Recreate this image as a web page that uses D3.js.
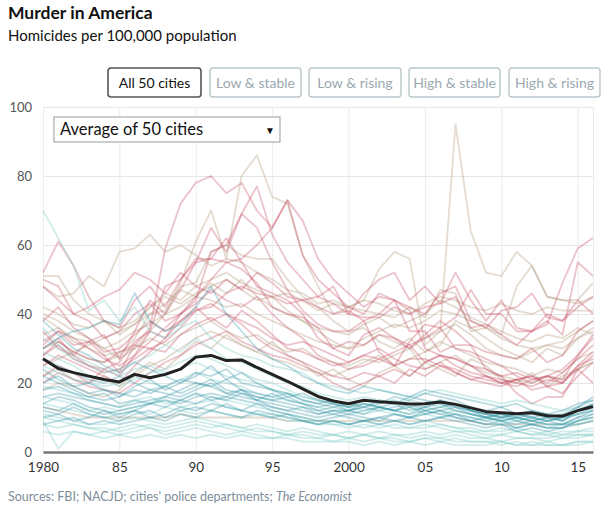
<!DOCTYPE html>
<html>
<head>
<meta charset="utf-8">
<script src="https://cdn.jsdelivr.net/npm/d3@7"></script>
<style>
  body { margin: 0; background: #fff; font-family: Lato, "Open Sans", sans-serif; }
  svg text { font-family: Lato, "Open Sans", sans-serif; }
</style>
</head>
<body>
<div id="chart"></div>
<script>
// years on the x axis
const years = d3.range(1980, 2017);

// average of the 50 cities
const average = [27,24.2,23,22,21,20.3,22.5,21.5,22.5,24,27.5,28,26.5,26.7,24.5,22.5,20.5,18.3,16.1,14.8,14,15,14.6,14.3,13.9,14,14.5,13.8,12.8,11.7,11.4,11.1,11.4,10.5,10.4,12,13.2];

// high & rising cities
const highRising = [
  [31,35,31,32,28,23,31,36,59,72,78,80,75,78,70,65,73,57,50,46,42,40,46,44,35,35,29,31,31,24,22,17,14,16,16,24,20],
  [50,48,40,38,33,35,40,43,38,40,44,58,60,69,65,55,47,41,37,35,35,38,29,25,32,37,36,39,47,40,40,35,35,37,49,59,62],
  [28,32,29,27,26,29,31,30,32,36,41,42,46,48,46,45,43,44,45,43,40,39,39,42,40,42,43,45,36,37,34,31,35,38,34,55,51],
  [52,61,54,45,38,36,44,48,42,50,56,56,62,55,48,46,44,40,33,30,28,34,36,33,31,33,36,30,29,27,25,22,20,22,21,28,34],
  [35,30,28,32,34,27,35,44,40,47,55,65,58,69,77,63,55,50,45,48,40,46,50,52,44,48,43,52,44,38,44,36,35,40,38,42,45],
  [30,33,28,25,24,26,32,35,33,40,45,50,55,56,60,65,73,67,56,50,46,42,45,44,41,30,28,27,25,24,22,23,21,22,24,28,33],
  [22,25,23,20,24,22,28,35,48,50,55,56,55,53,49,42,40,39,36,30,32,31,34,33,30,34,38,35,31,29,28,27,30,26,28,35,38],
  [32,35,33,30,27,25,28,32,36,40,43,47,44,42,45,40,36,33,28,26,24,25,27,29,31,26,28,25,23,22,21,20,19,21,20,24,28],
  [25,28,26,24,22,20,25,29,33,38,42,38,40,37,33,30,28,26,24,22,21,23,22,20,24,22,25,23,21,20,19,21,18,19,17,22,26],
  [38,42,36,33,29,30,34,38,35,38,41,43,40,38,36,33,31,32,30,28,26,28,27,25,27,27,25,24,22,21,20,19,21,22,20,25,29],
  [20,23,21,19,18,17,20,23,26,28,31,33,35,32,30,28,27,25,23,20,18,20,22,24,22,26,28,27,25,22,20,21,22,19,20,25,27],
  [28,31,27,25,23,24,27,30,29,34,37,39,36,41,38,34,30,29,27,25,26,28,30,27,25,24,26,23,21,22,20,21,22,20,23,27,31],
  [48,44,40,42,45,47,52,50,46,52,48,46,50,47,52,49,45,44,42,40,41,38,40,44,42,40,46,48,38,36,41,42,46,39,38,44,40]
];

// high & stable cities
const highStable = [
  [39,36,33,32,30,27,30,35,40,49,61,70,56,80,86,74,72,57,48,40,42,44,53,58,56,31,35,95,64,52,51,58,54,45,44,44,49],
  [48,45,46,51,48,58,59,63,58,60,57,54,56,55,52,50,47,46,43,44,42,41,40,39,42,39,47,46,35,36,34,48,54,45,44,43,45],
  [30,32,29,27,26,28,33,40,41,48,49,58,60,57,56,56,50,45,42,38,35,36,32,30,33,29,31,38,36,33,30,28,26,30,28,33,36],
  [51,51,44,40,38,36,38,42,45,43,46,48,50,47,44,45,41,38,35,32,30,31,34,32,30,33,35,37,34,30,28,27,29,31,30,33,35],
  [40,38,35,33,30,32,35,37,40,42,45,44,42,43,40,38,36,34,32,31,30,33,35,37,36,38,41,40,38,36,33,31,30,31,32,35,38],
  [25,27,29,31,33,35,37,42,46,44,48,50,52,49,47,45,46,44,41,43,42,44,43,41,40,43,45,44,42,41,43,41,40,42,41,41,41],
  [18,20,19,17,16,18,22,25,27,30,33,35,33,31,29,27,26,24,23,22,24,26,28,25,27,29,32,30,28,26,25,24,22,24,23,27,29],
  [34,36,32,30,28,29,30,33,31,34,36,38,35,33,34,31,29,30,27,26,25,27,26,28,30,24,26,28,25,23,22,21,20,22,21,24,26],
  [13,12,11,10,10,10,10,10,10,11,10,10,10,10,10,10,9,9,9,9,9,9,9,9,9,9,9,9,9,8,8,8,8,8,8,8,9],
  [22,24,21,20,22,19,23,26,24,28,32,30,34,31,29,32,28,26,22,24,21,19,23,25,22,26,24,22,27,25,21,20,23,19,22,24,26],
  [42,40,37,36,38,34,37,40,43,47,45,49,46,50,45,42,40,38,36,35,34,37,39,36,38,40,44,42,39,37,35,33,32,34,33,36,34]
];

// low & rising cities
const lowRising = [
  [22,20,18,16,17,14,15,14,15,14,16,17,16,18,15,14,13,12,11,12,11,12,13,12,11,13,12,13,11,10,9,10,9,10,9,12,13],
  [16,17,16,15,14,13,14,15,16,15,17,15,16,15,14,13,12,11,10,11,10,9,10,11,10,11,12,10,9,8,8,7,8,7,7,9,11],
  [38,34,30,28,25,23,26,24,22,20,22,25,21,23,20,18,17,15,14,13,14,13,15,14,16,15,14,13,12,11,10,11,10,9,10,12,14],
  [13,12,14,12,11,12,13,14,13,15,14,16,15,17,15,13,12,13,11,12,12,13,14,15,13,14,15,13,12,11,11,10,9,10,9,11,12],
  [20,22,19,17,18,16,19,21,18,20,23,22,24,20,19,18,16,17,15,14,13,15,14,16,15,17,16,15,13,12,13,11,12,11,10,13,15],
  [10,11,9,10,12,11,12,10,11,13,12,14,13,12,14,12,11,10,9,10,11,10,9,11,10,12,11,10,9,10,9,8,9,8,8,10,11],
  [27,25,23,21,20,22,20,18,19,21,20,19,21,18,17,16,17,15,14,15,13,14,13,14,12,13,14,12,11,10,11,9,10,9,10,11,13],
  [14,16,15,13,12,10,12,14,16,18,20,19,17,18,16,15,14,13,12,11,12,14,13,12,14,13,15,14,12,11,10,11,10,11,9,12,14],
  [8,9,10,8,9,8,9,10,9,11,10,12,11,10,12,11,10,9,8,9,8,9,10,9,10,9,10,11,9,8,9,7,8,7,7,9,10],
  [18,19,17,16,15,16,18,17,19,17,19,21,18,17,16,15,16,14,13,14,12,13,12,13,14,12,13,14,12,10,11,10,11,10,11,13,16],
  [30,33,35,36,38,37,46,38,35,37,42,48,40,35,30,27,25,22,20,18,17,19,18,17,16,18,17,16,15,14,13,14,12,11,12,14,15],
  [12,11,13,11,10,9,11,12,10,12,13,12,14,12,11,10,11,9,8,9,8,9,8,9,8,9,10,9,8,7,8,6,7,6,7,8,9],
  [24,21,19,20,18,17,16,18,17,16,18,20,17,16,15,17,15,14,12,13,12,11,13,12,13,11,12,11,10,9,10,9,8,9,8,10,12]
];

// low & stable cities
const lowStable = [
  [70,62,54,41,44,38,42,35,33,36,38,33,30,28,27,25,24,23,20,19,18,17,18,17,16,17,18,17,16,15,14,15,14,13,12,13,12],
  [8,7,8,7,6,7,8,7,6,7,8,7,8,7,6,6,5,6,5,5,4,5,4,5,4,5,4,5,4,4,3,4,4,3,4,4,5],
  [9,1,6,5,6,5,6,7,5,6,7,6,5,6,5,4,5,4,4,3,4,3,4,3,3,4,3,4,3,3,2,3,2,3,2,3,3],
  [14,13,12,11,10,11,12,11,13,12,11,12,11,10,11,10,9,9,8,8,7,8,7,8,7,7,8,7,6,6,7,6,5,6,5,6,6],
  [36,31,28,26,24,22,24,25,23,24,26,24,22,21,20,18,17,16,15,14,13,14,13,12,13,12,11,12,11,10,9,10,9,8,8,9,10],
  [6,5,6,5,4,5,4,5,4,5,4,5,4,5,4,4,4,3,3,3,3,2,3,2,3,2,3,2,2,2,3,2,2,2,2,2,3],
  [19,18,17,15,14,13,15,16,14,15,17,16,15,14,13,12,11,10,9,9,8,9,8,9,8,9,8,7,7,6,6,7,6,5,6,6,7],
  [11,10,9,8,8,9,10,9,8,9,10,9,8,7,8,7,6,7,6,5,6,5,6,5,5,6,5,6,5,4,5,4,4,4,5,5,5],
  [25,23,21,20,19,20,22,20,19,21,23,21,20,19,17,16,15,14,13,12,12,11,12,11,10,11,10,11,10,9,8,9,8,7,8,8,9],
  [16,15,14,12,13,12,13,14,15,13,14,15,13,12,11,11,10,9,9,8,8,7,8,7,7,8,7,6,6,5,5,6,5,5,4,5,5],
  [29,27,25,22,21,19,21,23,24,26,28,27,25,23,21,20,18,16,15,14,13,12,13,12,11,12,13,12,11,10,9,10,9,8,8,9,10],
  [10,9,8,7,7,6,7,8,7,8,9,8,7,6,7,6,5,5,4,5,4,5,4,4,3,4,4,3,3,3,3,2,3,2,2,3,3],
  [33,30,27,25,23,24,26,28,31,29,33,30,27,26,24,22,20,19,17,16,15,16,15,14,15,14,13,14,12,11,10,11,10,9,10,11,12]
];

const buttons = ["All 50 cities", "Low & stable", "Low & rising", "High & stable", "High & rising"];
const yTicks = [0, 20, 40, 60, 80, 100];
const xTicks = [1980, 1985, 1990, 1995, 2000, 2005, 2010, 2015];

const W = 607, H = 520;
const margin = {top: 107, right: 14, bottom: 68, left: 43};
const width = W - margin.left - margin.right;
const height = H - margin.top - margin.bottom;

const svg = d3.select("#chart").append("svg")
    .attr("width", W)
    .attr("height", H);

// title + subtitle
svg.append("text")
    .attr("x", 8).attr("y", 19)
    .style("font-size", "17.5px").style("font-weight", "bold").attr("fill", "#111")
    .text("Murder in America");
svg.append("text")
    .attr("x", 8).attr("y", 41)
    .style("font-size", "15px").attr("fill", "#111")
    .text("Homicides per 100,000 population");

// filter buttons
const btnX = [108, 210, 309, 409, 509];
const btnW = [93, 91, 92, 91, 91];
const btn = svg.append("g").selectAll("g")
    .data(buttons)
    .enter().append("g")
    .attr("transform", (d, i) => "translate(" + btnX[i] + ",68)");
btn.append("rect")
    .attr("width", (d, i) => btnW[i]).attr("height", 29)
    .attr("rx", 3)
    .attr("fill", "#fff")
    .attr("stroke", (d, i) => i === 0 ? "#555" : "#bac6cb")
    .attr("stroke-width", (d, i) => i === 0 ? 1.6 : 1.4);
btn.append("text")
    .attr("x", (d, i) => btnW[i] / 2).attr("y", 19.5)
    .attr("text-anchor", "middle")
    .style("font-size", "14px")
    .attr("fill", (d, i) => i === 0 ? "#111" : "#9aa9b0")
    .text(d => d);

const g = svg.append("g")
    .attr("transform", "translate(" + margin.left + "," + margin.top + ")");

const x = d3.scaleLinear().domain([1980, 2016]).range([0, width]);
const y = d3.scaleLinear().domain([0, 100]).range([height, 0]);

// horizontal grid
g.append("g")
    .attr("class", "grid")
    .call(d3.axisLeft(y).tickValues(yTicks).tickSize(-width).tickFormat(""))
    .call(a => a.select(".domain").remove())
    .selectAll("line").attr("stroke", "#e6e6e6");

// vertical grid
g.append("g")
    .attr("class", "grid")
    .attr("transform", "translate(0," + height + ")")
    .call(d3.axisBottom(x).tickValues(xTicks.concat([2016])).tickSize(-height).tickFormat(""))
    .call(a => a.select(".domain").remove())
    .selectAll("line").attr("stroke", "#ececec");

// y tick labels
g.append("g")
    .call(d3.axisLeft(y).tickValues(yTicks).tickSize(0).tickPadding(11))
    .call(a => a.select(".domain").remove())
    .selectAll("text")
    .style("font-size", "13px")
    .attr("fill", "#555");

const line = d3.line()
    .x((d, i) => x(years[i]))
    .y(d => y(d));

const groups = [
  {data: highStable, color: "#b9a185", op: 0.38},
  {data: highRising, color: "#c3455b", op: 0.32},
  {data: lowStable, color: "#7fcdc8", op: 0.36},
  {data: lowRising, color: "#2f93a5", op: 0.32}
];

groups.forEach(grp => {
  g.append("g").selectAll("path")
    .data(grp.data)
    .enter().append("path")
    .attr("d", line)
    .attr("fill", "none")
    .attr("stroke", grp.color)
    .attr("stroke-opacity", grp.op)
    .attr("stroke-width", 1.8)
    .attr("stroke-linejoin", "round");
});

// average line
g.append("path")
    .datum(average)
    .attr("d", line)
    .attr("fill", "none")
    .attr("stroke", "#222")
    .attr("stroke-width", 3)
    .attr("stroke-linejoin", "round");

// x axis
g.append("g")
    .attr("transform", "translate(0," + height + ")")
    .call(d3.axisBottom(x).tickValues(xTicks).tickSize(0).tickPadding(10)
        .tickFormat(d => d === 1980 || d === 2000 ? String(d) : String(d).slice(2)))
    .call(a => a.select(".domain").attr("stroke", "#777").attr("stroke-width", 2.5))
    .selectAll("text")
    .style("font-size", "13.5px")
    .attr("fill", "#333");

// dropdown
const dd = svg.append("g").attr("transform", "translate(54,117)");
dd.append("rect")
    .attr("width", 226).attr("height", 25)
    .attr("fill", "#fff")
    .attr("stroke", "#999").attr("stroke-width", 1);
dd.append("text")
    .attr("x", 6).attr("y", 18)
    .style("font-size", "16.5px").attr("fill", "#111")
    .text("Average of 50 cities");
dd.append("text")
    .attr("x", 211).attr("y", 17)
    .style("font-size", "10px").attr("fill", "#111")
    .text("▼");

// source
const src = svg.append("text")
    .attr("x", 8).attr("y", 501)
    .style("font-size", "12.5px").attr("fill", "#7d8d9a");
src.append("tspan").text("Sources: FBI; NACJD; cities' police departments; ");
src.append("tspan").style("font-style", "italic").text("The Economist");
</script>
</body>
</html>
